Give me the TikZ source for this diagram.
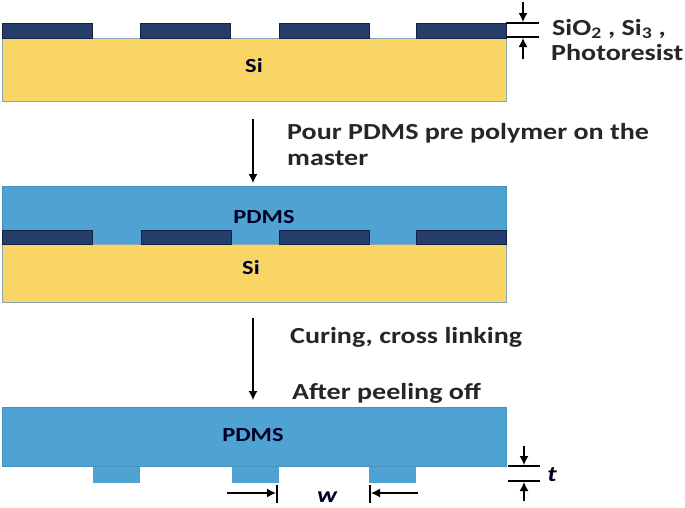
\documentclass[tikz,border=0pt]{standalone}
\usepackage{fontspec}
\setmainfont[FakeStretch=1.22]{Carlito}
\usepackage{tikz}
\usetikzlibrary{arrows.meta,positioning}
\definecolor{Wafer}{HTML}{F9D566}
\definecolor{WaferEdge}{HTML}{8CA5B0}
\definecolor{Pdms}{HTML}{4FA3D2}
\definecolor{PdmsEdge}{HTML}{4691BE}
\definecolor{Mask}{HTML}{253D6B}
\definecolor{MaskEdge}{HTML}{16233F}
\begin{document}
\begin{tikzpicture}[
  x=1pt,y=-1pt,
  node distance=48pt,
  layerbox/.style={inner sep=0pt,outer sep=0pt,anchor=north west,line width=0.8pt},
  wafer/.style={layerbox,draw=WaferEdge,fill=Wafer,minimum width=504pt,minimum height=63pt},
  polymer/.style={layerbox,draw=PdmsEdge,fill=Pdms,minimum width=504pt,minimum height=59pt},
  maskbar/.style={layerbox,draw=MaskEdge,fill=Mask,minimum width=90pt,minimum height=15pt},
  tooth/.style={layerbox,draw=Pdms,fill=Pdms,minimum width=46pt,minimum height=17pt},
  lbl/.style={font=\fontsize{20}{22}\selectfont\bfseries,text=black!85!blue,inner sep=0pt},
  note/.style={font=\fontsize{23}{25}\selectfont\bfseries,text=black!85,inner sep=0pt,anchor=base west},
  arr/.style={-{Latex[length=9pt,width=9pt]},draw=black,line width=1.3pt},
  tick/.style={draw=black,line width=1.3pt}
]
\useasboundingbox (0,0) rectangle (685,507);
% master
\node[wafer] (si1) at (2,38) {};
\node[maskbar] (m1) at (2,23) {};
\node[maskbar,right=48pt of m1] (m2) {};
\node[maskbar,right=49pt of m2] (m3) {};
\node[maskbar,right=47pt of m3] (m4) {};
\node[lbl] (si1t) at (254,66) {Si};
% poured layer
\node[polymer] (p1) at (2,186) {};
\node[wafer,minimum height=58pt] (si2) at (2,244) {};
\node[maskbar,minimum height=14pt] (n1) at (2,230) {};
\node[maskbar,minimum height=14pt,right=49pt of n1] (n2) {};
\node[maskbar,minimum height=14pt,right=48pt of n2] (n3) {};
\node[maskbar,minimum height=14pt,right=47pt of n3] (n4) {};
\node[lbl] (p1t) at (264,217) {PDMS};
\node[lbl] (si2t) at (251,268) {Si};
% peeled stamp
\node[tooth] (t1) at (93,465) {};
\node[tooth] (t2) at (232,465) {};
\node[tooth] (t3) at (369,465) {};
\node[polymer] (p2) at (2,407) {};
\node[lbl] (p2t) at (253,435) {PDMS};
% flow arrows
\coordinate (a1) at (253,119); \coordinate (a2) at (253,183);
\coordinate (b1) at (253,318); \coordinate (b2) at (253,400);
\draw[arr] (a1)--(a2); \draw[arr] (b1)--(b2);
\node[note] (n1a) at (287,139) {Pour PDMS pre polymer on the};
\node[note] (n1b) at (287,165) {master};
\node[note] (n2a) at (290,343) {Curing, cross linking};
\node[note] (n2b) at (292,399) {After peeling off};
% mask thickness
\coordinate (u1) at (506,23); \coordinate (u2) at (539,23);
\coordinate (v1) at (506,37); \coordinate (v2) at (539,37);
\coordinate (u0) at (523,2); \coordinate (u3) at (523,22);
\coordinate (v0) at (523,59); \coordinate (v3) at (523,38);
\draw[tick] (u1)--(u2); \draw[tick] (v1)--(v2);
\draw[arr] (u0)--(u3); \draw[arr] (v0)--(v3);
\node[note] (sio) at (552,35) {SiO\textsubscript{2} , Si\textsubscript{3} ,};
\node[note] (phr) at (551,60) {Photoresist};
% stamp height
\coordinate (c1) at (508,466); \coordinate (c2) at (540,466);
\coordinate (d1) at (508,481); \coordinate (d2) at (540,481);
\coordinate (c0) at (524,446); \coordinate (c3) at (524,465);
\coordinate (d0) at (524,501); \coordinate (d3) at (524,482);
\draw[tick] (c1)--(c2); \draw[tick] (d1)--(d2);
\draw[arr] (c0)--(c3); \draw[arr] (d0)--(d3);
\node[lbl,font=\fontsize{22}{22}\selectfont\bfseries\itshape] (tt) at (552,475) {t};
% tooth gap
\coordinate (e1) at (277,485); \coordinate (e2) at (277,503);
\coordinate (f1) at (370,485); \coordinate (f2) at (370,503);
\coordinate (e0) at (227,493); \coordinate (e3) at (276,493);
\coordinate (f0) at (418,493); \coordinate (f3) at (371,493);
\draw[tick] (e1)--(e2); \draw[tick] (f1)--(f2);
\draw[arr] (e0)--(e3); \draw[arr] (f0)--(f3);
\node[lbl,font=\fontsize{22}{22}\selectfont\bfseries\itshape] (ww) at (327,497) {w};
\end{tikzpicture}
\end{document}
